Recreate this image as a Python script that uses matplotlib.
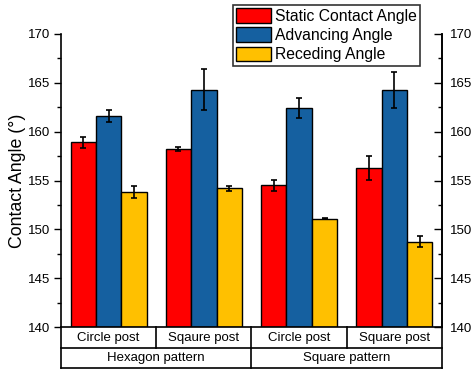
import numpy as np
import matplotlib.pyplot as plt
from matplotlib.patches import Patch
from matplotlib.ticker import MultipleLocator

plt.rcParams['font.family'] = ['Liberation Sans', 'DejaVu Sans']

# данные
posts = ['Circle post', 'Sqaure post', 'Circle post', 'Square post']
patterns = ['Hexagon pattern', 'Square pattern']
static = [158.9, 158.2, 154.5, 156.3]
static_err = [0.6, 0.2, 0.6, 1.2]
advancing = [161.6, 164.3, 162.45, 164.25]
advancing_err = [0.65, 2.1, 1.0, 1.85]
receding = [153.8, 154.2, 151.1, 148.75]
receding_err = [0.6, 0.25, 0.05, 0.55]

series = [('Static Contact Angle', static, static_err, '#FF0000'),
          ('Advancing Angle', advancing, advancing_err, '#1560A0'),
          ('Receding Angle', receding, receding_err, '#FFC000')]

fig = plt.figure(figsize=(4.74, 3.74), dpi=100)
ax = fig.add_axes([61 / 474, 47 / 374, 381 / 474, 293 / 374])

x = np.arange(len(posts))
w = 0.8 / 3
for i, (name, vals, errs, col) in enumerate(series):
    ax.bar(x + (i - 1) * w, np.array(vals) - 140, w, bottom=140, color=col,
           edgecolor='black', linewidth=1.0, yerr=errs, capsize=2.5,
           error_kw=dict(elinewidth=1.2, capthick=1.2, ecolor='black'), zorder=2)

ax.set_xlim(-0.5, 3.5)
ax.set_ylim(140, 170)
ax.yaxis.set_major_locator(MultipleLocator(5))
ax.yaxis.set_minor_locator(MultipleLocator(2.5))
ax.tick_params(axis='y', which='both', direction='out', labelsize=9.5, width=1.0, pad=3)
ax.tick_params(axis='y', which='major', length=5)
ax.tick_params(axis='y', which='minor', length=3)
ax.set_xticks([])
ax.spines['top'].set_visible(False)
for s in ['left', 'right', 'bottom']:
    ax.spines[s].set_linewidth(1.2)
ax.set_ylabel('Contact Angle (°)', fontsize=12.8, labelpad=1)

# правая ось, засечки внутрь
ax2 = ax.twinx()
ax2.set_ylim(ax.get_ylim())
ax2.yaxis.set_major_locator(MultipleLocator(5))
ax2.yaxis.set_minor_locator(MultipleLocator(2.5))
ax2.tick_params(axis='y', which='both', direction='in', labelsize=9.5, width=1.0, pad=6)
ax2.tick_params(axis='y', which='major', length=6)
ax2.tick_params(axis='y', which='minor', length=3)
for s in ['top', 'left', 'bottom']:
    ax2.spines[s].set_visible(False)
ax2.spines['right'].set_linewidth(1.2)

# таблица под осью
r1 = -21 / 293
r2 = -41 / 293
lk = dict(color='black', linewidth=1.2, clip_on=False, transform=ax.get_xaxis_transform())
ax.plot([-0.5, 3.5], [r1, r1], **lk)
ax.plot([-0.5, 3.5], [r2, r2], **lk)
ax.plot([-0.5, -0.5], [0, r2], **lk)
ax.plot([3.5, 3.5], [0, r2], **lk)
for b in [0.5, 2.5]:
    ax.plot([b, b], [0, r1], **lk)
ax.plot([1.5, 1.5], [0, r2], **lk)
for i, p in enumerate(posts):
    ax.text(i, r1 / 2, p, ha='center', va='center', fontsize=9.5,
            transform=ax.get_xaxis_transform())
for j, p in enumerate(patterns):
    ax.text(2 * j + 0.5, (r1 + r2) / 2, p, ha='center', va='center', fontsize=9.5,
            transform=ax.get_xaxis_transform())

handles = [Patch(facecolor=c, edgecolor='black', linewidth=1.0) for _, _, _, c in series]
leg = fig.legend(handles, [s[0] for s in series], loc='upper left',
                 bbox_to_anchor=(233 / 474, 1 - 5 / 374), fontsize=11.3,
                 frameon=True, fancybox=False, edgecolor='black',
                 handlelength=2.2, handleheight=1.08, handletextpad=0.3,
                 labelspacing=0.22, borderpad=0.2, borderaxespad=0)
leg.get_frame().set_linewidth(1.2)

fig.savefig('out.png', dpi=100)
